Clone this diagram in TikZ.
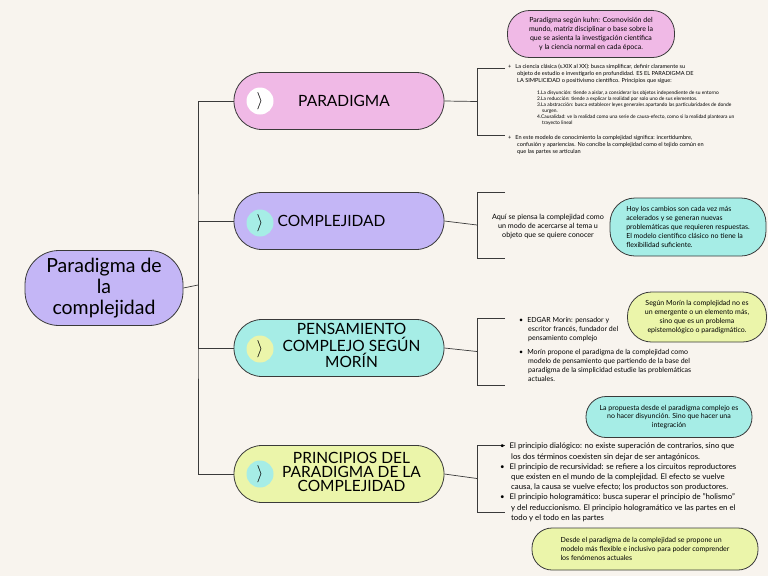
\documentclass[tikz,border=0pt]{standalone}
\usepackage{fontspec}
\setmainfont{Lato}
\usetikzlibrary{positioning}
\definecolor{bg}{HTML}{F8F4EE}
\definecolor{lav}{HTML}{C4B6F6}
\definecolor{pinkc}{HTML}{F0B9E6}
\definecolor{cyanc}{HTML}{A6EDE6}
\definecolor{yelc}{HTML}{EBF5AA}
\definecolor{ln}{HTML}{3A3A3A}
\tikzset{
 topic/.style={draw=ln,line width=0.8pt,rounded corners=28pt,minimum width=210pt,minimum height=57pt,align=center,font=\fontsize{15.5}{17}\selectfont},
 icon/.style={circle,minimum size=27pt,inner sep=0pt,font=\fontsize{16}{16}\selectfont},
 callout/.style={draw=ln,line width=0.8pt,rounded corners=20pt,align=left,font=\fontsize{7}{8.8}\selectfont,inner xsep=8pt},
 conn/.style={draw=ln,line width=0.7pt},
 small/.style={align=left,font=\fontsize{6.2}{8}\selectfont,inner sep=0pt},
}
\begin{document}
\begin{tikzpicture}[x=1pt,y=-1pt]
\fill[bg] (0,0) rectangle (768,576);
\useasboundingbox (0,0) rectangle (768,576);
% root
\node[draw=ln,line width=0.8pt,fill=lav,rounded corners=34pt,minimum width=158pt,minimum height=75pt,align=center,font=\fontsize{19.5}{21}\selectfont] (root) at (104,288) {Paradigma de\\la\\complejidad};
% topics
\node[topic,fill=pinkc] (t1) at (339,101) {\hspace*{10pt}PARADIGMA};
\node[topic,fill=lav] (t2) at (339,221) {\hspace*{-15pt}COMPLEJIDAD};
\node[topic,fill=cyanc] (t3) at (339,348) {\hspace*{25pt}\begin{tabular}{c}PENSAMIENTO\\[-3pt]COMPLEJO SEGÚN\\[-3pt]MORÍN\end{tabular}};
\node[topic,fill=yelc] (t4) at (339,474) {\hspace*{25pt}\begin{tabular}{c}PRINCIPIOS DEL\\[-3pt]PARADIGMA DE LA\\[-3pt]COMPLEJIDAD\end{tabular}};
\node[icon,fill=white] (i1) at (260,101) {$\rangle$};
\node[icon,fill=cyanc] (i2) at (260,223) {$\rangle$};
\node[icon,fill=yelc] (i3) at (260,349) {$\rangle$};
\node[icon,fill=cyanc] (i4) at (260,474) {$\rangle$};
% trunk
\coordinate (tr) at (198,285);
\draw[conn] (root.east) -- (tr);
\draw[conn] (t1.west) -| (tr) |- (t4.west);
\draw[conn] (tr) |- (t2.west);
\draw[conn] (tr) |- (t3.west);
% brackets
\foreach \n/\a/\b in {1/68/135,2/192/258,3/318/385,4/445/512}{
 \coordinate (b\n) at (477,{(\a+\b)/2});
 \draw[conn] (t\n.east) -- (b\n);
 \draw[conn] (505,\a) -- (477,\a) -- (477,\b) -- (505,\b);
}
% text 1
\node[small,anchor=north west,font=\fontsize{5.6}{7}\selectfont] (p1) at (508,64) {+\hspace{4pt}La ciencia clásica (s.XIX al XX): busca simplificar, definir claramente su\\
\hspace*{9pt}objeto de estudio e investigarlo en profundidad. ES EL PARADIGMA DE\\
\hspace*{9pt}LA SIMPLICIDAD o positivismo científico. Principios que sigue:};
\node[small,anchor=north west,font=\fontsize{4.9}{6}\selectfont] (p2) at (537,91) {1.La disyunción: tiende a aislar, a considerar los objetos independiente de su entorno\\
2.La reducción: tiende a explicar la realidad por solo uno de sus elementos.\\
3.La abstracción: busca establecer leyes generales apartando las particularidades de donde\\
\hspace*{5pt}surgen.\\
4.Causalidad: ve la realidad como una serie de causa-efecto, como si la realidad planteara un\\
\hspace*{5pt}trayecto lineal};
\node[small,anchor=north west,font=\fontsize{5.6}{7}\selectfont] (p3) at (508,135) {+\hspace{4pt}En este modelo de conocimiento la complejidad significa: incertidumbre,\\
\hspace*{9pt}confusión y apariencias. No concibe la complejidad como el tejido común en\\
\hspace*{9pt}que las partes se articulan};
% text 2
\node[small,align=center,font=\fontsize{7.2}{9}\selectfont] (q1) at (548,226) {Aquí se piensa la complejidad como\\un modo de acercarse al tema u\\objeto que se quiere conocer};
% text 3
\node[small,anchor=north west,font=\fontsize{7}{9}\selectfont] (m1) at (519,317) {\textbullet\hspace{4pt}EDGAR Morín: pensador y\\\hspace*{9pt}escritor francés, fundador del\\\hspace*{9pt}pensamiento complejo};
\node[small,anchor=north west,font=\fontsize{7}{9}\selectfont] (m2) at (519,349) {\textbullet\hspace{4pt}Morín propone el paradigma de la complejidad como\\\hspace*{9pt}modelo de pensamiento que partiendo de la base del\\\hspace*{9pt}paradigma de la simplicidad estudie las problemáticas\\\hspace*{9pt}actuales.};
% text 4
\node[small,anchor=north west,font=\fontsize{7.8}{10.2}\selectfont] (r1) at (500,443) {\textbullet\hspace{5pt}El principio dialógico: no existe superación de contrarios, sino que\\\hspace*{11pt}los dos términos coexisten sin dejar de ser antagónicos.\\
\textbullet\hspace{5pt}El principio de recursividad: se refiere a los circuitos reproductores\\\hspace*{11pt}que existen en el mundo de la complejidad. El efecto se vuelve\\\hspace*{11pt}causa, la causa se vuelve efecto; los productos son productores.\\
\textbullet\hspace{5pt}El principio hologramático: busca superar el principio de "holismo"\\\hspace*{11pt}y del reduccionismo. El principio hologramático ve las partes en el\\\hspace*{11pt}todo y el todo en las partes};
% callouts
\node[callout,fill=pinkc,align=center,minimum width=167pt,minimum height=47pt,rounded corners=22pt] (c1) at (591,34) {Paradigma según kuhn: Cosmovisión del\\mundo, matriz disciplinar o base sobre la\\que se asienta la investigación científica\\y la ciencia normal en cada época.};
\node[callout,fill=cyanc,minimum width=156pt,minimum height=58pt,rounded corners=25pt] (c2) at (688,227) {Hoy los cambios son cada vez más\\acelerados y se generan nuevas\\problemáticas que requieren respuestas.\\El modelo científico clásico no tiene la\\flexibilidad suficiente.};
\node[callout,fill=yelc,align=center,minimum width=139pt,minimum height=50pt,rounded corners=24pt,inner xsep=2pt] (c3) at (697,317) {Según Morín la complejidad no es\\un emergente o un elemento más,\\sino que es un problema\\epistemológico o paradigmático.};
\node[callout,fill=cyanc,align=center,minimum width=166pt,minimum height=41pt] (c4) at (669,417) {La propuesta desde el paradigma complejo es\\no hacer disyunción. Sino que hacer una\\integración};
\node[callout,fill=yelc,minimum width=226pt,minimum height=42pt] (c5) at (645,549) {Desde el paradigma de la complejidad se propone un\\modelo más flexible e inclusivo para poder comprender\\los fenómenos actuales};
\end{tikzpicture}
\end{document}
